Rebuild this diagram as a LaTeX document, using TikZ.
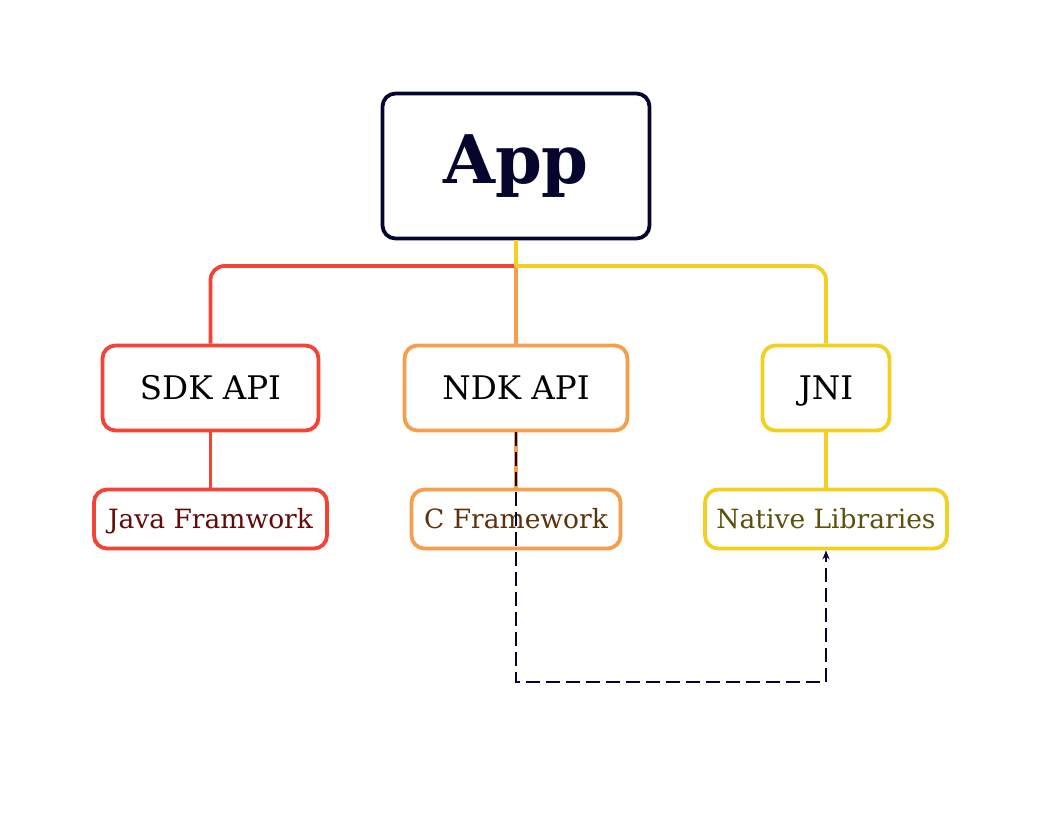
\documentclass[tikz,border=0pt]{standalone}
\usepackage{fontspec}
\setmainfont{DejaVu Serif}
\usetikzlibrary{arrows.meta}
\definecolor{navy}{RGB}{5,5,45}
\definecolor{cred}{RGB}{244,67,54}
\definecolor{corange}{RGB}{245,158,76}
\definecolor{cyellow}{RGB}{242,208,34}
\definecolor{tred}{RGB}{100,10,10}
\definecolor{torange}{RGB}{92,50,10}
\definecolor{tyellow}{RGB}{92,80,10}
\begin{document}
\begin{tikzpicture}[x=1pt,y=-1pt,
  box/.style={draw, rounded corners=13pt, line width=3.8pt, fill=white, inner sep=0pt},
  midtext/.style={font=\fontsize{32.5}{32.5}\selectfont, text height=23.7pt, text depth=0pt},
  smalltext/.style={font=\fontsize{26.5}{26.5}\selectfont, text height=19.3pt, text depth=0pt},
  conn/.style={line width=3.8pt, rounded corners=14pt},
  dashconn/.style={draw=navy, line width=1.8pt, dash pattern=on 14pt off 6pt, -{Stealth[length=9pt,width=7pt]}}]
\useasboundingbox (0,0) rectangle (1048,824);
\node[box, draw=navy, minimum width=267pt, minimum height=145pt, text=navy, font=\fontsize{67}{67}\selectfont\bfseries] (app) at (516,166) {App};
\node[box, draw=cred, minimum width=216pt, minimum height=85pt, midtext] (sdk) at (210.5,388) {SDK API};
\node[box, draw=corange, minimum width=223pt, minimum height=85pt, midtext] (ndk) at (516,388) {NDK API};
\node[box, draw=cyellow, minimum width=127pt, minimum height=85pt, midtext] (jni) at (826,388) {JNI};
\node[box, draw=cred, minimum width=233pt, minimum height=59pt, smalltext, text=tred] (java) at (210.5,519) {Java Framwork};
\node[box, draw=corange, minimum width=209pt, minimum height=59pt, smalltext, text=torange] (cfw) at (516,519) {C Framework};
\node[box, draw=cyellow, minimum width=242pt, minimum height=59pt, smalltext, text=tyellow] (nat) at (826,519) {Native Libraries};
\coordinate (j) at (516,266);
\coordinate (dc) at (516,682);
\draw[conn, cred] (j) -| (sdk.north);
\draw[conn, corange] (j) -- (ndk.north);
\draw[conn, cyellow] (j) -| (jni.north);
\draw[line width=3.8pt, cyellow] (app.south) -- (j);
\draw[conn, cred] (sdk.south) -- (java.north);
\draw[conn, corange] (ndk.south) -- (cfw.north);
\draw[conn, cyellow] (jni.south) -- (nat.north);
\draw[dashconn] (ndk.south) -- (dc) -| (nat.south);
\end{tikzpicture}
\end{document}
